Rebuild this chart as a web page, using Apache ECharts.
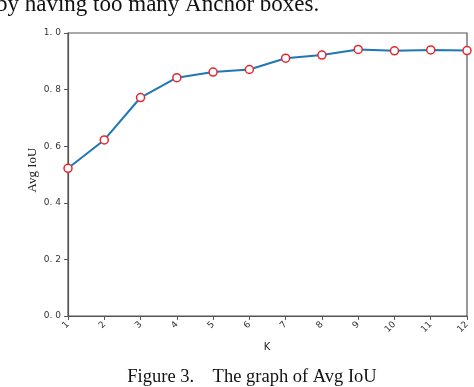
<!DOCTYPE html>
<html><head><meta charset="utf-8">
<script src="https://cdn.jsdelivr.net/npm/echarts@6/dist/echarts.min.js"></script>
<style>html,body{margin:0;padding:0;background:#fff;}#c{width:474px;height:387px;}</style>
</head><body><div id="c"></div>
<script>
const categories = ['1','2','3','4','5','6','7','8','9','10','11','12'];
const avgIoU = [0.522, 0.622, 0.772, 0.842, 0.862, 0.871, 0.911, 0.922, 0.942, 0.937, 0.940, 0.938];
const yTicks = [0, 0.2, 0.4, 0.6, 0.8, 1.0];

const chart = echarts.init(document.getElementById('c'), null, {renderer:'canvas'});
chart.setOption({
  animation:false,
  backgroundColor:'#fff',
  grid:{left:68, right:7, top:33, bottom:71, show:true, borderColor:'#555', borderWidth:1.2, backgroundColor:'transparent'},
  xAxis:{type:'category', data:categories, boundaryGap:false,
    axisLine:{lineStyle:{color:'#555', width:1.2}},
    axisTick:{alignWithLabel:true, length:4, lineStyle:{color:'#555'}},
    axisLabel:{rotate:45, fontSize:9, color:'#333', fontFamily:'DejaVu Sans', margin:7, interval:0},
    splitLine:{show:false}},
  yAxis:{type:'value', min:0, max:1, interval:0.2,
    axisLine:{show:true, lineStyle:{color:'#555', width:1.2}},
    axisTick:{show:true, length:4, lineStyle:{color:'#555'}},
    axisLabel:{fontSize:9, color:'#333', fontFamily:'DejaVu Sans', margin:7,
      formatter:function(v){const t=yTicks.find(x=>Math.abs(x-v)<1e-9); return t===undefined?'':t.toFixed(1).replace('.', '. ');}},
    splitLine:{show:false}},
  series:[{type:'line', data:avgIoU, symbol:'circle', symbolSize:8,
    lineStyle:{color:'#1f77b4', width:2},
    itemStyle:{color:'#fff', borderColor:'#e8262e', borderWidth:1.5}}],
  graphic:[
    {type:'text', left:-4, top:-7, style:{text:'by having too many Anchor boxes.', font:'23px "Liberation Serif"', fill:'#111'}},
    {type:'text', x:267, y:347, style:{text:'K', font:'10px "DejaVu Sans"', fill:'#222', align:'center', verticalAlign:'middle'}},
    {type:'text', x:33, y:170, rotation:Math.PI/2, style:{text:'Avg IoU', font:'13px "Liberation Serif"', fill:'#222', align:'center', verticalAlign:'middle'}},
    {type:'text', x:252, y:377, style:{text:'Figure 3.    The graph of Avg IoU', font:'18.5px "Liberation Serif"', fill:'#111', align:'center', verticalAlign:'middle'}}
  ]
});
</script></body></html>
